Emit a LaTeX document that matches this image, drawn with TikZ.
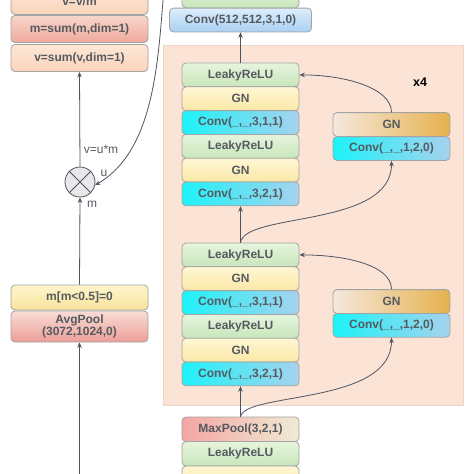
\documentclass[tikz,border=0pt]{standalone}
\usepackage{fontspec}
\setmainfont{Liberation Sans}
\usetikzlibrary{arrows.meta}
\definecolor{bordergray}{HTML}{A3A3A3}
\definecolor{txtgray}{HTML}{555A60}
\definecolor{linegray}{HTML}{4E5461}
\definecolor{peachbg}{HTML}{FBE4D6}
\definecolor{peachedge}{HTML}{EFD3C4}
\tikzset{
  blk/.style={draw=bordergray, rounded corners=4pt, line width=0.8pt,
    minimum width=117pt, minimum height=23.8pt, inner sep=0pt,
    font=\bfseries\fontsize{12}{13}\selectfont, text=txtgray, align=center},
  lblk/.style={blk, minimum width=137pt, minimum height=27pt},
  leaky/.style={blk, top color={rgb,255:red,230;green,245;blue,222}, bottom color={rgb,255:red,200;green,230;blue,186}},
  gn/.style={blk, top color={rgb,255:red,254;green,247;blue,212}, bottom color={rgb,255:red,251;green,232;blue,166}},
  convc/.style={blk, left color={rgb,255:red,30;green,242;blue,248}, right color={rgb,255:red,166;green,210;blue,238}},
  convb/.style={blk, minimum width=142pt, top color={rgb,255:red,221;green,238;blue,252}, bottom color={rgb,255:red,169;green,208;blue,243}},
  sidegn/.style={blk, left color={rgb,255:red,245;green,232;blue,220}, right color={rgb,255:red,230;green,178;blue,78}},
  maxp/.style={blk, minimum height=24.5pt, left color={rgb,255:red,244;green,166;blue,164}, right color={rgb,255:red,239;green,235;blue,210}},
  lpeach/.style={lblk, top color={rgb,255:red,253;green,230;blue,214}, bottom color={rgb,255:red,250;green,212;blue,188}},
  lsalmon/.style={lblk, top color={rgb,255:red,248;green,214;blue,202}, bottom color={rgb,255:red,238;green,170;blue,156}},
  lyellow/.style={lblk, minimum height=25pt, top color={rgb,255:red,254;green,245;blue,204}, bottom color={rgb,255:red,249;green,228;blue,156}},
  lpink/.style={lblk, minimum height=31pt, font=\bfseries\fontsize{12}{12.5}\selectfont, top color={rgb,255:red,249;green,220;blue,214}, bottom color={rgb,255:red,236;green,159;blue,152}},
  conn/.style={draw=linegray, line width=0.8pt, -{Stealth[length=5.5pt,width=4.5pt]}},
  lbl/.style={font=\fontsize{12}{13}\selectfont, text=txtgray, inner sep=0pt},
}
\begin{document}
\begin{tikzpicture}[x=1pt,y=-1pt]
\useasboundingbox (0,0) rectangle (474,474);
\fill[white] (0,0) rectangle (474,474);
% background of repeated block
\draw[fill=peachbg, draw=peachedge, line width=0.6pt] (163,45) rectangle (463,405);
\node[font=\bfseries\fontsize{12.5}{13}\selectfont, text=black] (x4) at (420,82) {x4};

% left column
\node[lpeach] (vdiv) at (79.5,1) {v=v/m};
\node[lsalmon] (msum) at (79.5,29) {m=sum(m,dim=1)};
\node[lpeach] (vsum) at (79.5,58) {v=sum(v,dim=1)};
\node[lyellow] (mclip) at (79.5,297.5) {m[m<0.5]=0};
\node[lpink] (avg) at (79.5,326.5) {AvgPool\\(3072,1024,0)};
\node[circle, draw=linegray, fill={rgb,255:red,232;green,232;blue,232}, line width=0.8pt, minimum size=30pt, inner sep=0pt] (mul) at (80,182) {};
\draw[linegray, line width=0.8pt] (mul.45) -- (mul.225) (mul.135) -- (mul.315);
\node[lbl] (lv) at (101,149) {v=u*m};
\node[lbl] (lu) at (104,173) {u};
\node[lbl] (lm) at (92,204) {m};
\coordinate (bot) at (79.5,480);
\coordinate (utop) at (164,-12);

% right main column
\node[leaky] (topleaky) at (240.5,-4) {};
\node[convb] (conv512) at (240.5,20) {Conv(512,512,3,1,0)};

\node[leaky] (a1) at (240.5,74.9) {LeakyReLU};
\node[gn] (a2) at (240.5,98.7) {GN};
\node[convc] (a3) at (240.5,122.5) {Conv(\_,\_,3,1,1)};
\node[leaky] (a4) at (240.5,146.3) {LeakyReLU};
\node[gn] (a5) at (240.5,170.1) {GN};
\node[convc] (a6) at (240.5,193.9) {Conv(\_,\_,3,2,1)};
\node[sidegn] (as1) at (391.5,124.5) {GN};
\node[convc] (as2) at (391.5,148.5) {Conv(\_,\_,1,2,0)};

\node[leaky] (b1) at (240.5,254.9) {LeakyReLU};
\node[gn] (b2) at (240.5,278.7) {GN};
\node[convc] (b3) at (240.5,302.5) {Conv(\_,\_,3,1,1)};
\node[leaky] (b4) at (240.5,326.3) {LeakyReLU};
\node[gn] (b5) at (240.5,350.1) {GN};
\node[convc] (b6) at (240.5,373.9) {Conv(\_,\_,3,2,1)};
\node[sidegn] (bs1) at (391.5,301.5) {GN};
\node[convc] (bs2) at (391.5,325.3) {Conv(\_,\_,1,2,0)};

\node[maxp] (maxp) at (240.5,429.3) {MaxPool(3,2,1)};
\node[leaky, minimum height=24.5pt] (c1) at (240.5,453.8) {LeakyReLU};
\node[gn, minimum height=24.5pt] (c2) at (240.5,478.3) {};

% connectors left
\draw[conn] (bot) -- (avg.south);
\draw[conn] (mclip.north) -- (mul.south);
\draw[conn] (mul.north) -- (vsum.south);
\draw[conn] (utop) .. controls (158,60) and (155,150) .. (mul.-12);

% connectors right
\draw[conn] (a1.north) -- (conv512.south);
\draw[conn] (b1.north) -- (a6.south);
\draw[conn] (maxp.north) -- (b6.south);
\draw[conn] (b1.north) .. controls (245,212) and (391.5,228) .. (as2.south);
\draw[conn] (as1.north) .. controls (391.5,88) and (345,75) .. (a1.east);
\draw[conn] (maxp.north) .. controls (245,392) and (391.5,405) .. (bs2.south);
\draw[conn] (bs1.north) .. controls (391.5,265) and (345,255) .. (b1.east);
\end{tikzpicture}
\end{document}
